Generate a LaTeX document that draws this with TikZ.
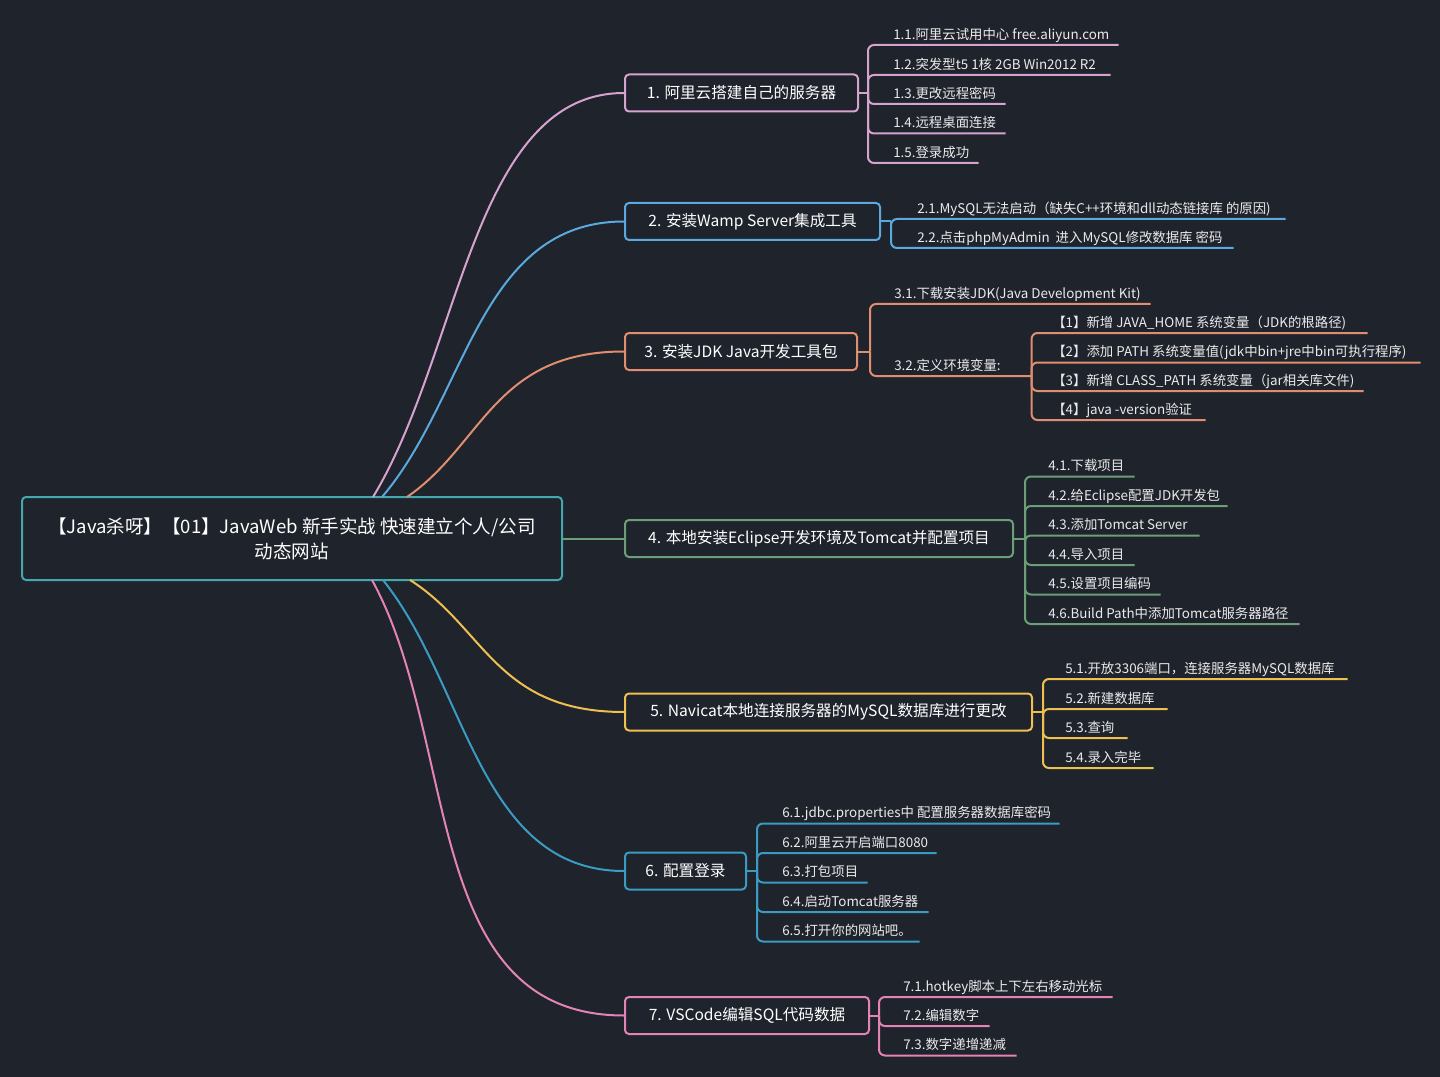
\documentclass[tikz,border=0pt]{standalone}
\usepackage{fontspec}
\setmainfont{Noto Sans CJK SC}
\newdimen\pxu \pxu=0.75pt
\newcommand\lw[2]{\makebox[#1\pxu][l]{#2}}
\definecolor{bg}{HTML}{1F232C}
\definecolor{croot}{HTML}{45A7AE}
\definecolor{cA}{HTML}{D6A2D0}
\definecolor{cB}{HTML}{5AA9DF}
\definecolor{cC}{HTML}{E08D70}
\definecolor{cD}{HTML}{6A9F78}
\definecolor{cE}{HTML}{EEC04F}
\definecolor{cF}{HTML}{3B9CC3}
\definecolor{cG}{HTML}{E383B6}
\definecolor{leafc}{HTML}{EBEBEB}
\begin{document}
\begin{tikzpicture}[x=0.75pt,y=-0.75pt,
  rootbox/.style={draw=croot, line width=1.5pt, fill=bg, rounded corners=3pt, text=white,
    font=\fontsize{13.9}{18.75}\selectfont, align=center, minimum width=405pt, minimum height=62.25pt, inner sep=0pt},
  brbox/.style={draw=#1, line width=1.5pt, fill=bg, rounded corners=3pt, text=white,
    font=\fontsize{11.7}{14}\selectfont, minimum height=27.75pt, anchor=west, inner sep=0pt},
  leaf/.style={anchor=south west, inner xsep=7.5pt, inner ysep=0pt, text depth=4.1pt, text=leafc,
    font=\fontsize{10.05}{12}\selectfont},
  ln/.style={draw=#1, line width=1.5pt},
  ul/.style={draw=#1, line width=1.5pt, rounded corners=4.5pt}]
\fill[bg] (0,0) rectangle (1440,1077);
\useasboundingbox (0,0) rectangle (1440,1077);

% root
\node[rootbox] (root) at (292,538.5) {【Java杀呀】【01】JavaWeb 新手实战 快速建立个人/公司\\动态网站};

% branches
\node[brbox=cA, minimum width=174.75pt] (b1) at (624,93) {1. 阿里云搭建自己的服务器};
\node[brbox=cB, minimum width=191.25pt] (b2) at (624,221.5) {2. 安装Wamp Server集成工具};
\node[brbox=cC, minimum width=174pt] (b3) at (624,351.5) {3. 安装JDK Java开发工具包};
\node[brbox=cD, minimum width=291pt] (b4) at (624,538.5) {4. 本地安装Eclipse开发环境及Tomcat并配置项目};
\node[brbox=cE, minimum width=305.25pt] (b5) at (624,712) {5. Navicat本地连接服务器的MySQL数据库进行更改};
\node[brbox=cF, minimum width=90.75pt] (b6) at (624,871) {6. 配置登录};
\node[brbox=cG, minimum width=183pt] (b7) at (624,1015.5) {7. VSCode编辑SQL代码数据};

% start points on root border
\coordinate (s1) at (373,497);
\coordinate (s2) at (382,497);
\coordinate (s3) at (407,497);
\coordinate (s5) at (410,580);
\coordinate (s6) at (383,580);
\coordinate (s7) at (372,580);

\draw[ln=cA] (s1) .. controls (461,352) and (473,93) .. (b1.west);
\draw[ln=cB] (s2) .. controls (467,398) and (479,221.5) .. (b2.west);
\draw[ln=cC] (s3) .. controls (483,445) and (494,351.5) .. (b3.west);
\draw[ln=cD] (root.east) -- (b4.west);
\draw[ln=cE] (s5) .. controls (485,627.5) and (496,712) .. (b5.west);
\draw[ln=cF] (s6) .. controls (467,685) and (479,871) .. (b6.west);
\draw[ln=cG] (s7) .. controls (460,740) and (420,1015.5) .. (b7.west);

% junctions
\coordinate (j1) at (868,93);
\coordinate (j2) at (891,221.5);
\coordinate (j3) at (870,351.5);
\coordinate (j4) at (1025,538.5);
\coordinate (j5) at (1043,712);
\coordinate (j6) at (757,871);
\coordinate (j7) at (879,1015.5);

% leaves 1
\node[leaf] (l11) at (883,45) {\lw{215}{1.1.阿里云试用中心 free.aliyun.com}};
\node[leaf] (l12) at (883,75) {\lw{207}{1.2.突发型t5 1核 2GB Win2012 R2}};
\node[leaf] (l13) at (883,104) {\lw{102}{1.3.更改远程密码}};
\node[leaf] (l14) at (883,133.5) {\lw{102}{1.4.远程桌面连接}};
\node[leaf] (l15) at (883,163) {\lw{75}{1.5.登录成功}};
% leaves 2
\node[leaf] (l21) at (907,219) {\lw{358}{2.1.MySQL无法启动（缺失C++环境和dll动态链接库 的原因)}};
\node[leaf] (l22) at (907,248) {\lw{306}{2.2.点击phpMyAdmin\ \ 进入MySQL修改数据库 密码}};
% leaves 3
\node[leaf] (l31) at (884,304) {\lw{246}{3.1.下载安装JDK(Java Development Kit)}};
\node[leaf] (l32) at (884,376) {\lw{127}{3.2.定义环境变量:}};
\node[leaf] (l3a) at (1042,333) {\lw{305}{【1】新增 JAVA\_HOME 系统变量（JDK的根路径)}};
\node[leaf] (l3b) at (1042,362.5) {\lw{358}{【2】添加 PATH 系统变量值(jdk中bin+jre中bin可执行程序)}};
\node[leaf] (l3c) at (1042,391) {\lw{301}{【3】新增 CLASS\_PATH 系统变量（jar相关库文件)}};
\node[leaf] (l3d) at (1042,420) {\lw{143}{【4】java -version验证}};
% leaves 4
\node[leaf] (l41) at (1038,476.5) {\lw{76}{4.1.下载项目}};
\node[leaf] (l42) at (1038,506) {\lw{169}{4.2.给Eclipse配置JDK开发包}};
\node[leaf] (l43) at (1038,535.5) {\lw{141}{4.3.添加Tomcat Server}};
\node[leaf] (l44) at (1038,565) {\lw{76}{4.4.导入项目}};
\node[leaf] (l45) at (1038,594.5) {\lw{102}{4.5.设置项目编码}};
\node[leaf] (l46) at (1038,624) {\lw{241}{4.6.Build Path中添加Tomcat服务器路径}};
% leaves 5
\node[leaf] (l51) at (1055,679) {\lw{272}{5.1.开放3306端口，连接服务器MySQL数据库}};
\node[leaf] (l52) at (1055,709) {\lw{92}{5.2.新建数据库}};
\node[leaf] (l53) at (1055,738) {\lw{52}{5.3.查询}};
\node[leaf] (l54) at (1055,768) {\lw{78}{5.4.录入完毕}};
% leaves 6
\node[leaf] (l61) at (772,823.5) {\lw{267}{6.1.jdbc.properties中 配置服务器数据库密码}};
\node[leaf] (l62) at (772,853) {\lw{144}{6.2.阿里云开启端口8080}};
\node[leaf] (l63) at (772,882.5) {\lw{75}{6.3.打包项目}};
\node[leaf] (l64) at (772,912) {\lw{136}{6.4.启动Tomcat服务器}};
\node[leaf] (l65) at (772,941.5) {\lw{127}{6.5.打开你的网站吧。}};
% leaves 7
\node[leaf] (l71) at (893,997) {\lw{199}{7.1.hotkey脚本上下左右移动光标}};
\node[leaf] (l72) at (893,1026) {\lw{76}{7.2.编辑数字}};
\node[leaf] (l73) at (893,1055.5) {\lw{103}{7.3.数字递增递减}};

% stubs and underlines
\draw[ln=cA] (b1.east) -- (j1);
\foreach \l in {l11,l12,l13,l14,l15} \draw[ul=cA] (j1) |- (\l.south east);
\draw[ln=cB] (b2.east) -- (j2);
\foreach \l in {l21,l22} \draw[ul=cB] (j2) |- (\l.south east);
\draw[ln=cC] (b3.east) -- (j3);
\foreach \l in {l31,l32} \draw[ul=cC] (j3) |- (\l.south east);
\foreach \l in {l3a,l3b,l3c,l3d} \draw[ul=cC] (l32.south east) |- (\l.south east);
\draw[ln=cD] (b4.east) -- (j4);
\foreach \l in {l41,l42,l43,l44,l45,l46} \draw[ul=cD] (j4) |- (\l.south east);
\draw[ln=cE] (b5.east) -- (j5);
\foreach \l in {l51,l52,l53,l54} \draw[ul=cE] (j5) |- (\l.south east);
\draw[ln=cF] (b6.east) -- (j6);
\foreach \l in {l61,l62,l63,l64,l65} \draw[ul=cF] (j6) |- (\l.south east);
\draw[ln=cG] (b7.east) -- (j7);
\foreach \l in {l71,l72,l73} \draw[ul=cG] (j7) |- (\l.south east);
\end{tikzpicture}
\end{document}
